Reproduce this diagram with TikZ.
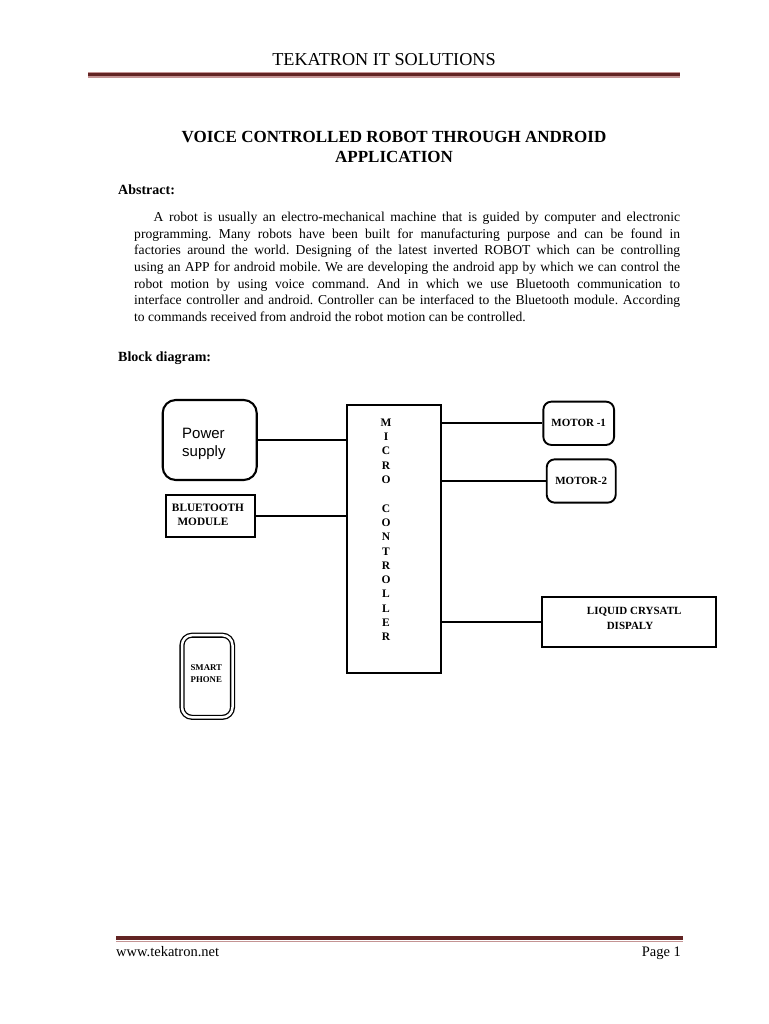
\documentclass[tikz,border=0pt]{standalone}
\usepackage{fontspec}
\setmainfont{Liberation Serif}
\newfontfamily\arialf{Liberation Sans}
\definecolor{rulered}{HTML}{622423}
\definecolor{rulelight}{HTML}{C49494}
\frenchspacing
\begin{document}
\begin{tikzpicture}[x=1pt,y=-1pt,
  box/.style={draw, line width=1.9pt, inner sep=0pt},
  lbl/.style={font=\bfseries\fontsize{11}{13}\selectfont, inner sep=0pt},
  wire/.style={line width=1.9pt},
  txt/.style={inner sep=0pt}]
\fill[white] (0,0) rectangle (768,1024);
\useasboundingbox (0,0) rectangle (768,1024);

% header
\node[txt, font=\fontsize{18.2}{20}\selectfont] (hdr) at (384,60) {TEKATRON IT SOLUTIONS};
\fill[rulelight] (88,71.7) rectangle (680,77.7);
\fill[rulered] (88,73.3) rectangle (680,76.3);

% title
\node[txt, font=\bfseries\fontsize{17}{20}\selectfont] (t1) at (394,137) {VOICE CONTROLLED ROBOT THROUGH ANDROID};
\node[txt, font=\bfseries\fontsize{17}{20}\selectfont] (t2) at (394,157) {APPLICATION};

% abstract
\node[txt, anchor=base west, font=\bfseries\fontsize{14}{16}\selectfont] (abs) at (118,194.5) {Abstract:};
\node[txt, anchor=base west, text width=546pt, align=justify, font=\frenchspacing\fontsize{13.6}{16.67}\selectfont] (body) at (134,221.5)
{\hspace*{19.5pt}A robot is usually an electro-mechanical machine that is guided by computer and electronic\linebreak
programming. Many robots have been built for manufacturing purpose and can be found in\linebreak
factories around the world. Designing of the latest inverted ROBOT which can be controlling\linebreak
using an APP for android mobile. We are developing the android app by which we can control the\linebreak
robot motion by using voice command. And in which we use Bluetooth communication to\linebreak
interface controller and android. Controller can be interfaced to the Bluetooth module. According\linebreak
to commands received from android the robot motion can be controlled.};
\node[txt, anchor=base west, font=\bfseries\fontsize{14}{16}\selectfont] (bd) at (118,361.5) {Block diagram:};

% diagram
\node[box, line width=2.1pt, rounded corners=13pt, minimum width=94pt, minimum height=80pt] (ps) at (209.7,440) {};
\node[txt, anchor=base west, align=left, font=\arialf\fontsize{15}{18}\selectfont] (pst) at (182,456) {Power\\supply};

\node[box, minimum width=89pt, minimum height=41.7pt] (bt) at (210.5,515.8) {};
\node[lbl, font=\bfseries\fontsize{11.3}{13}\selectfont] (bt1) at (208,508.3) {BLUETOOTH};
\node[lbl, font=\bfseries\fontsize{11.3}{13}\selectfont] (bt2) at (203,521.7) {MODULE};

\node[box, minimum width=94pt, minimum height=268.3pt] (mc) at (393.7,539.2) {};
\node[txt, anchor=north, align=center, font=\bfseries\fontsize{11.5}{14.31}\selectfont] (mct) at (386,418.5)
{M\\I\\C\\R\\O\\[14.31pt]C\\O\\N\\T\\R\\O\\L\\L\\E\\R};

\node[box, rounded corners=8pt, minimum width=70.7pt, minimum height=43.3pt, font=\bfseries\fontsize{11}{13}\selectfont] (m1) at (578.7,423.3) {MOTOR -1};
\node[box, rounded corners=8pt, minimum width=69pt, minimum height=43.3pt, font=\bfseries\fontsize{11}{13}\selectfont] (m2) at (581.2,481) {MOTOR-2};

\node[box, minimum width=173.4pt, minimum height=50pt] (lcd) at (629,621.7) {};
\node[lbl] (lcd1) at (634.2,611.7) {LIQUID CRYSATL};
\node[lbl] (lcd2) at (630,626) {DISPALY};

\node[draw, double, line width=1.3pt, double distance=2.5pt, rounded corners=10pt, minimum width=50.5pt, minimum height=82.1pt, inner sep=0pt] (ph) at (207.25,676.25) {};
\node[lbl, font=\bfseries\fontsize{8.8}{12.3}\selectfont] (ph1) at (206.3,667.7) {SMART};
\node[lbl, font=\bfseries\fontsize{8.8}{12.3}\selectfont] (ph2) at (206.3,680) {PHONE};

\draw[wire] (ps.east) -- (ps.east -| mc.west);
\draw[wire] (bt.east) -- (bt.east -| mc.west);
\draw[wire] (m1.west -| mc.east) -- (m1.west);
\draw[wire] (m2.west -| mc.east) -- (m2.west);
\draw[wire] (lcd.west -| mc.east) -- (lcd.west);

% footer
\fill[rulered] (116,935.5) rectangle (683,939.5);
\fill[rulelight] (116,940.5) rectangle (683,941.8);
\node[txt, anchor=base west, font=\fontsize{14.5}{16}\selectfont] (url) at (116,956) {www.tekatron.net};
\node[txt, anchor=base east, font=\fontsize{14.5}{16}\selectfont] (pg) at (681,956) {Page 1};
\end{tikzpicture}
\end{document}
